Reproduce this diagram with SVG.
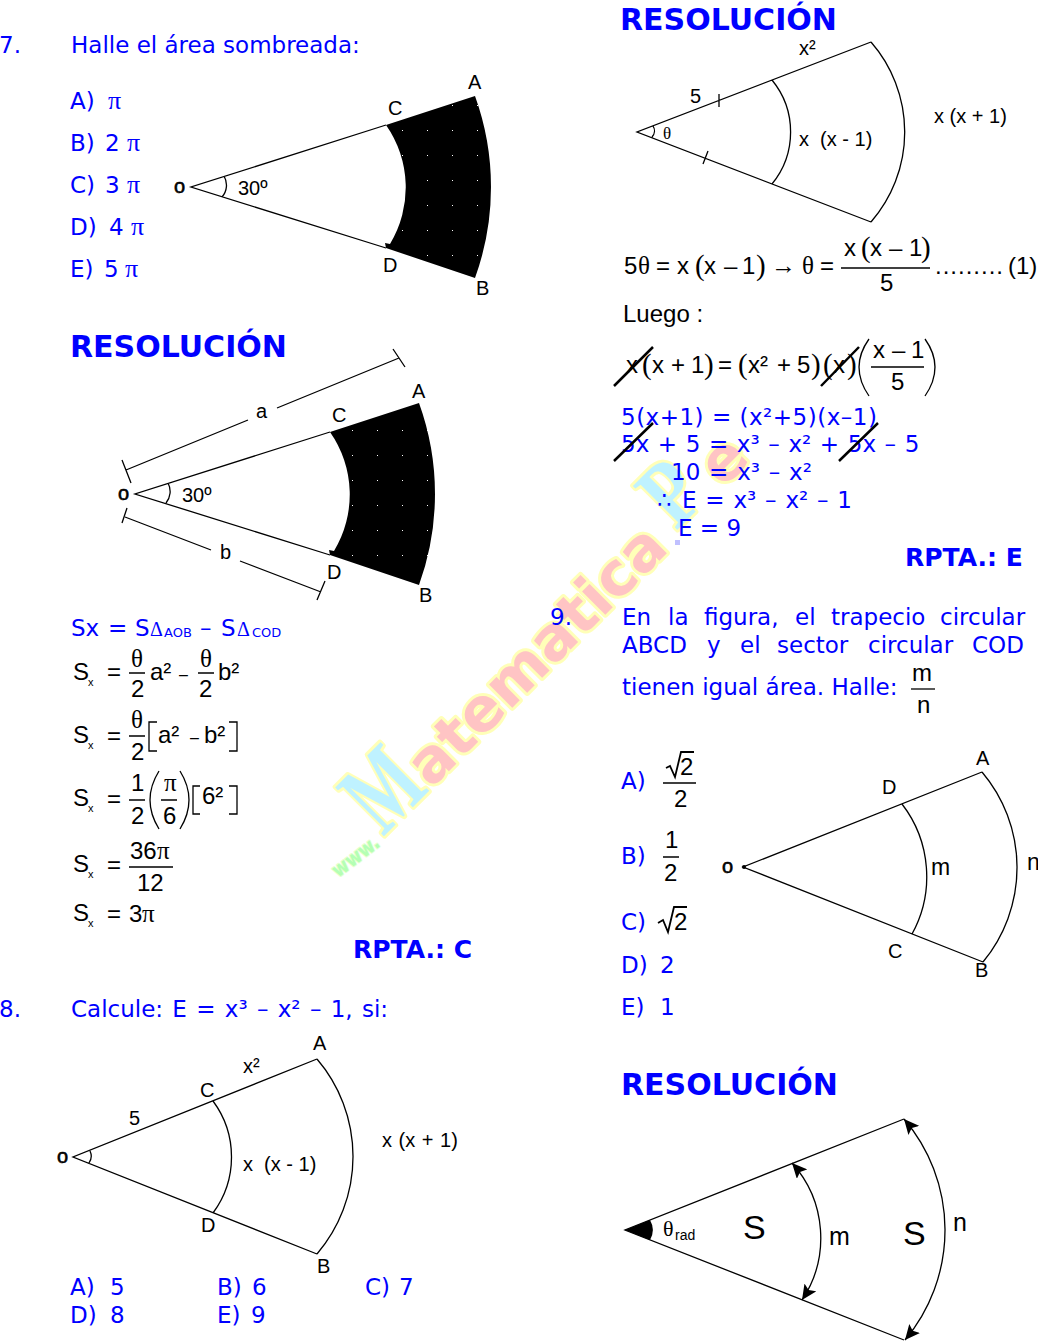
<svg xmlns="http://www.w3.org/2000/svg" width="1038" height="1341" viewBox="0 0 1038 1341">
<style>
text{font-family:"DejaVu Sans",Verdana,sans-serif}
.b{fill:#0000ff;font-size:23px}
.h{fill:#0000ff;font-size:30px;font-weight:700}
.r{fill:#0000ff;font-size:25px;font-weight:700}
.k{fill:#000;font-family:"Liberation Sans",Arial,sans-serif;font-size:20px}
.o{fill:#000;stroke:#000;stroke-width:.6;font-family:"Liberation Sans",Arial,sans-serif;font-size:20px}
.m{fill:#000;font-family:"Liberation Sans",Arial,sans-serif;font-size:24px}
.u{fill:#000;font-family:"Liberation Sans",Arial,sans-serif;font-size:11px}
.s{fill:#000;font-family:"Liberation Serif","Times New Roman",serif;font-size:25px}
.p{fill:#000;font-family:"Liberation Serif","Times New Roman",serif;font-size:29px}
.bs{fill:#0000ff;font-family:"Liberation Serif","Times New Roman",serif;font-size:26px}
.d{fill:#0000ff;font-family:"Liberation Serif","Times New Roman",serif;font-size:20px}
.sm{font-size:14px}
.l{fill:none;stroke:#000;stroke-width:1.3}
.w{stroke:#ffffb8;stroke-width:6;paint-order:stroke;stroke-linejoin:round;font-weight:700}
</style>
<defs>
<pattern id="dots" width="25" height="25" patternUnits="userSpaceOnUse"><rect width="25" height="25" fill="#000"/><rect x="2" y="5" width="1" height="1" fill="#fff"/></pattern>
<marker id="ah" markerWidth="16" markerHeight="14" refX="15" refY="7" orient="auto-start-reverse" markerUnits="userSpaceOnUse"><path d="M15,7L0,0L3,7L0,14Z" fill="#000"/></marker>
</defs>
<g id="watermark">
<text class="w" transform="translate(338,878) rotate(-37)" fill="#b4ffb4" style="font-size:20px;stroke:#e6ffd0;stroke-width:2" textLength="54" lengthAdjust="spacingAndGlyphs">www.</text>
<text class="w" transform="translate(383,837) rotate(-45) scale(.68,1)" fill="#bff2ff" style="font-family:'Liberation Serif',serif;font-size:105px">M</text>
<text class="w" transform="translate(431,789) rotate(-45)" fill="#ffc4c4" style="font-size:60px" textLength="338" lengthAdjust="spacingAndGlyphs">atematica</text>
<text class="w" transform="translate(676,531) rotate(-45) scale(.8,1)" fill="#bff2ff" style="font-family:'Liberation Serif',serif;font-size:95px">P</text>
<text class="w" transform="translate(723,489) rotate(-45)" fill="#ffc4c4" style="font-size:60px">e</text>
<rect x="675" y="540" width="5" height="5" fill="#c0c0ff"/>
</g>
<g id="fig7">
<path d="M386,125L475,96A267,267 0 0 1 475,278L386,248L385,243L390,244A109,109 0 0 0 386,125Z" fill="url(#dots)"/>
<path class="l" d="M386,125L191,187L386,248M224,176A18,18 0 0 1 222,197"/>
<text class="o" x="174" y="193">o</text><text class="k" x="238" y="195">30º</text>
<text class="k" x="468" y="89">A</text><text class="k" x="388" y="115">C</text><text class="k" x="383" y="272">D</text><text class="k" x="476" y="295">B</text>
</g>
<g id="fig7b">
<path d="M330,432L419,403A267,267 0 0 1 419,585L330,555L329,550L334,551A109,109 0 0 0 330,432Z" fill="url(#dots)"/>
<path class="l" d="M330,432L135,494L330,555M168,483A18,18 0 0 1 166,503"/>
<path class="l" d="M126,470L248,420M277,408L399,358M122,460L131,483M393,349L405,367M125,517L211,550M240,561L321,592M127,508L122,523M325,581L317,600"/>
<text class="o" x="118" y="500">o</text><text class="k" x="182" y="502">30º</text>
<text class="k" x="412" y="398">A</text><text class="k" x="332" y="422">C</text><text class="k" x="327" y="579">D</text><text class="k" x="419" y="602">B</text>
<text class="k" x="256" y="418">a</text><text class="k" x="220" y="559">b</text>
</g>
<g id="fig8">
<path class="l" d="M317,1059L73,1157L317,1254M317,1059A150,150 0 0 1 317,1254M213,1101A94,94 0 0 1 213,1213M90,1151A12,12 0 0 1 89,1163"/>
<text class="o" x="57" y="1163">o</text><text class="k" x="313" y="1050">A</text><text class="k" x="200" y="1097">C</text><text class="k" x="201" y="1232">D</text><text class="k" x="317" y="1273">B</text>
<text class="k" x="129" y="1125">5</text><text class="k" x="243" y="1073">x²</text><text class="k" x="243" y="1171">x&#160;&#160;(x - 1)</text><text class="k" x="382" y="1147" word-spacing="1">x (x + 1)</text>
</g>
<g id="fig-top">
<path class="l" d="M871,42L637,132L871,222M871,42A137,137 0 0 1 871,222M772,80A82,82 0 0 1 772,184M653,126A9,9 0 0 1 652,137M719,94V107M708,151L703,164"/>
<text class="k" x="690" y="103">5</text><text class="k" x="799" y="55">x²</text><text class="k" x="799" y="146">x&#160;&#160;(x - 1)</text><text class="k" x="934" y="123">x (x + 1)</text><text class="s" x="663" y="139" style="font-size:17px">θ</text>
</g>
<g id="fig9">
<path class="l" d="M982,772L743,867L983,962M982,772A148,148 0 0 1 983,962M902,804A119,119 0 0 1 912,934"/>
<circle cx="744" cy="867" r="2"/>
<text class="o" x="722" y="873">o</text><text class="k" x="976" y="765">A</text><text class="k" x="882" y="794">D</text><text class="k" x="888" y="958">C</text><text class="k" x="975" y="977">B</text>
<text class="k" x="931" y="875" style="font-size:23px">m</text><text class="k" x="1027" y="870" style="font-size:23px">n</text>
</g>
<g id="fig9b">
<path class="l" d="M904,1119L625,1230L904,1340"/>
<path d="M625,1230L650,1220A20,20 0 0 1 650,1240Z" fill="#000"/>
<path class="l" marker-start="url(#ah)" marker-end="url(#ah)" d="M792,1163A112,112 0 0 1 802,1300"/>
<path class="l" marker-start="url(#ah)" marker-end="url(#ah)" d="M904,1119A171,171 0 0 1 905,1340"/>
<text class="s" x="663" y="1236" style="font-size:22px">θ</text><text class="k" x="675" y="1240" style="font-size:14px">rad</text>
<text class="k" x="743" y="1239" style="font-size:34px">S</text><text class="k" x="903" y="1245" style="font-size:34px">S</text>
<text class="k" x="829" y="1245" style="font-size:25px">m</text><text class="k" x="953" y="1231" style="font-size:25px">n</text>
</g>
<g id="text-left">
<text class="b" x="-1" y="53">7.</text><text class="b" x="71" y="53">Halle el área sombreada:</text>
<text class="b" x="70" y="109">A)</text><text class="bs" x="108" y="109">π</text>
<text class="b" x="70" y="151">B)</text><text class="b" x="105" y="151">2</text><text class="bs" x="127" y="151">π</text>
<text class="b" x="70" y="193">C)</text><text class="b" x="105" y="193">3</text><text class="bs" x="127" y="193">π</text>
<text class="b" x="70" y="235">D)</text><text class="b" x="109" y="235">4</text><text class="bs" x="131" y="235">π</text>
<text class="b" x="70" y="277">E)</text><text class="b" x="104" y="277">5</text><text class="bs" x="125" y="277">π</text>
<text class="h" x="70" y="357">RESOLUCIÓN</text>
<text class="b" x="71" y="636">Sx</text><text class="b" x="108" y="636">=</text><text class="b" x="135" y="636">S</text><text class="d" x="150" y="636">Δ</text><text class="b sm" x="164" y="637" style="font-size:13px">AOB</text><text class="b" x="200" y="636">–</text><text class="b" x="221" y="636">S</text><text class="d" x="237" y="636">Δ</text><text class="b sm" x="252" y="637" style="font-size:13px">COD</text>
<text class="r" x="353" y="958">RPTA.: C</text>
<text class="b" x="-1" y="1017">8.</text><text class="b" x="71" y="1017" word-spacing="2">Calcule: E = x³ – x² – 1, si:</text>
<text class="b" x="70" y="1295">A)</text><text class="b" x="110" y="1295">5</text><text class="b" x="217" y="1295">B)</text><text class="b" x="252" y="1295">6</text><text class="b" x="365" y="1295">C)</text><text class="b" x="399" y="1295">7</text>
<text class="b" x="70" y="1323">D)</text><text class="b" x="110" y="1323">8</text><text class="b" x="217" y="1323">E)</text><text class="b" x="251" y="1323">9</text>
</g>
<g id="math-left">
<path class="l" d="M129,673H145M198,673H214M129,736H145M157,722H149V751H157M229,722H237V751H229M129,800H145M161,800H177M200,786H193V814H200M229,786H237V814H229M129,867H173"/>
<path class="l" d="M159,771Q141,800 159,829M180,771Q198,800 180,829"/>
<text class="m" x="73" y="680">S</text><text class="u" x="88" y="686">x</text><text class="m" x="107" y="680">=</text><text class="s" x="131" y="667">θ</text><text class="m" x="131" y="697">2</text><text class="m" x="150" y="680">a²</text><text class="m" x="179" y="680" style="font-size:16px">–</text><text class="s" x="200" y="667">θ</text><text class="m" x="199" y="697">2</text><text class="m" x="218" y="680">b²</text>
<text class="m" x="73" y="743">S</text><text class="u" x="88" y="749">x</text><text class="m" x="107" y="744">=</text><text class="s" x="131" y="728">θ</text><text class="m" x="131" y="760">2</text><text class="m" x="158" y="743">a²</text><text class="m" x="190" y="743" style="font-size:16px">–</text><text class="m" x="204" y="743">b²</text>
<text class="m" x="73" y="806">S</text><text class="u" x="88" y="812">x</text><text class="m" x="107" y="807">=</text><text class="m" x="131" y="791">1</text><text class="m" x="131" y="824">2</text><text class="s" x="164" y="791">π</text><text class="m" x="163" y="824">6</text><text class="m" x="202" y="804">6²</text>
<text class="m" x="73" y="872">S</text><text class="u" x="88" y="878">x</text><text class="m" x="107" y="873">=</text><text class="m" x="130" y="859">36</text><text class="s" x="157" y="859">π</text><text class="m" x="137" y="891">12</text>
<text class="m" x="73" y="921">S</text><text class="u" x="88" y="927">x</text><text class="m" x="107" y="922">=</text><text class="m" x="129" y="922">3</text><text class="s" x="142" y="922">π</text>
</g>
<g id="text-right">
<text class="h" x="620" y="30">RESOLUCIÓN</text>
<text class="m" x="624" y="274">5</text><text class="s" x="638" y="274">θ</text><text class="m" x="656" y="274">=</text><text class="m" x="677" y="274">x</text><text class="p" x="695" y="275">(</text><text class="m" x="704" y="274">x</text><text class="m" x="724" y="274">–</text><text class="m" x="742" y="274">1</text><text class="p" x="756" y="275">)</text><text class="s" x="771" y="274">→</text><text class="s" x="802" y="274">θ</text><text class="m" x="820" y="274">=</text>
<path class="l" d="M841,268H930"/>
<text class="m" x="844" y="256">x</text><text class="p" x="861" y="257">(</text><text class="m" x="870" y="256">x</text><text class="m" x="889" y="256">–</text><text class="m" x="909" y="256">1</text><text class="p" x="921" y="257">)</text><text class="m" x="880" y="291">5</text><text class="m" x="935" y="274" letter-spacing="1">.........</text><text class="m" x="1008" y="274">(1)</text>
<text class="m" x="623" y="322">Luego :</text>
<text class="m" x="626" y="373">x</text><text class="p" x="642" y="374">(</text><text class="m" x="652" y="373">x</text><text class="m" x="671" y="373">+</text><text class="m" x="691" y="373">1</text><text class="p" x="704" y="374">)</text><text class="m" x="718" y="373">=</text><text class="p" x="738" y="374">(</text><text class="m" x="748" y="373">x²</text><text class="m" x="777" y="373">+</text><text class="m" x="797" y="373">5</text><text class="p" x="811" y="374">)</text><text class="p" x="823" y="374">(</text><text class="m" x="833" y="373">x</text><text class="p" x="847" y="374">)</text>
<path class="l" d="M871,367H924M869,339Q849,367 869,396M925,339Q945,367 925,396"/>
<text class="m" x="873" y="358">x</text><text class="m" x="892" y="358">–</text><text class="m" x="911" y="358">1</text><text class="m" x="891" y="390">5</text>
<text class="b" x="621" y="425" letter-spacing=".5">5(x+1) = (x²+5)(x–1)</text>
<text class="b" x="621" y="452" word-spacing="1.3">5x + 5 = x³ – x² + 5x – 5</text>
<text class="b" x="671" y="480" word-spacing="1.5">10 = x³ – x²</text>
<text class="b" x="657" y="508">∴</text><text class="b" x="682" y="508" word-spacing="1.5">E = x³ – x² – 1</text>
<text class="b" x="678" y="536">E = 9</text>
<path d="M614,386L653,347M614,461L653,423M821,386L859,347M839,461L878,423" fill="none" stroke="#000" stroke-width="2.5"/>
<text class="r" x="905" y="566">RPTA.: E</text>
<text class="b" x="550" y="625">9.</text>
<text class="b" x="622" y="625">En</text><text class="b" x="668" y="625">la</text><text class="b" x="704" y="625">figura,</text><text class="b" x="795" y="625">el</text><text class="b" x="831" y="625">trapecio</text><text class="b" x="940" y="625">circular</text>
<text class="b" x="622" y="653">ABCD</text><text class="b" x="707" y="653">y</text><text class="b" x="740" y="653">el</text><text class="b" x="777" y="653">sector</text><text class="b" x="868" y="653">circular</text><text class="b" x="972" y="653">COD</text>
<text class="b" x="622" y="695">tienen igual área. Halle:</text>
<path class="l" d="M911,689H935"/><text class="m" x="912" y="681">m</text><text class="m" x="917" y="713">n</text>
<text class="b" x="621" y="789">A)</text><text class="b" x="621" y="864">B)</text><text class="b" x="621" y="930">C)</text><text class="b" x="621" y="973">D)</text><text class="b" x="660" y="973">2</text><text class="b" x="621" y="1015">E)</text><text class="b" x="660" y="1015">1</text>
<text class="h" x="621" y="1095">RESOLUCIÓN</text>
<path class="l" d="M663,783H696M663,857H679"/>
<path d="M666,768L670,766L675,777L681,752H694M658,923L663,920L668,932L674,907H687" fill="none" stroke="#000" stroke-width="1.8"/>
<text class="m" x="680" y="775">2</text><text class="m" x="674" y="807">2</text><text class="m" x="665" y="848">1</text><text class="m" x="664" y="881">2</text><text class="m" x="674" y="930">2</text>
</g>
</svg>
